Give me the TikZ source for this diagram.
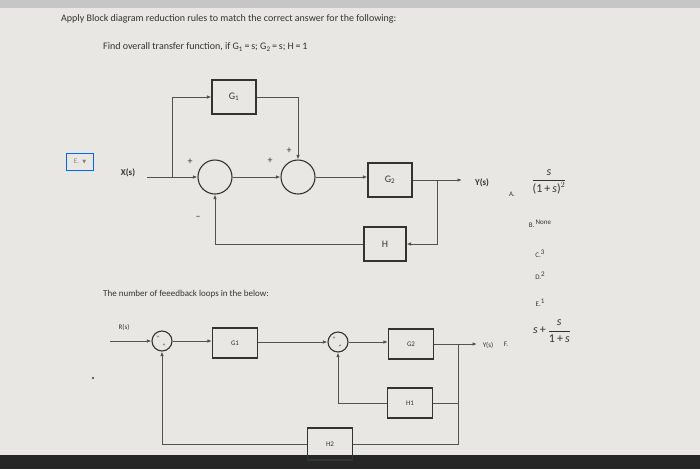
\documentclass[tikz,border=0pt]{standalone}
\usepackage{amsmath}
\usepackage{fontspec}
\setmainfont{Carlito}
\newfontfamily\djv{DejaVu Sans}
\usetikzlibrary{arrows.meta}
\definecolor{bg}{HTML}{E9E7E4}
\definecolor{ink}{HTML}{333333}
\begin{document}
\begin{tikzpicture}[x=1pt,y=-1pt,
  blk/.style={draw=ink,line width=1.1pt,minimum width=#1,minimum height=34pt,inner sep=0pt,font=\normalsize,text=ink},
  blk/.default=44pt,
  sblk/.style={draw=ink,line width=1.1pt,minimum width=45pt,minimum height=30pt,inner sep=0pt,font=\scriptsize,text=ink},
  sumc/.style={draw=ink,line width=1.1pt,circle,minimum size=#1,inner sep=0pt},
  wire/.style={draw=ink!85,line width=1pt},
  arr/.style={wire,-{Latex[length=4.5pt,width=3.5pt]}},
  lbl/.style={text=ink,font=\small,inner sep=1pt}]
\fill[bg] (0,0) rectangle (700,469);
\fill[gray!45] (0,0) rectangle (700,8);
\fill[black!85] (0,455) rectangle (700,469);
\useasboundingbox (0,0) rectangle (700,469);
% header
\node[lbl,anchor=west,font=\normalsize] (t1) at (60,19) {Apply Block diagram reduction rules to match the correct answer for the following:};
\node[lbl,anchor=west,font=\normalsize] (t2) at (102,47) {Find overall transfer function, if G\textsubscript{1}\,=\,s; G\textsubscript{2}\,=\,s; H\,=\,1};
% top diagram
\node[draw=blue!60!cyan,line width=1.3pt,minimum width=27pt,minimum height=17pt,inner sep=0pt,font=\scriptsize,text=gray] (dd) at (80,162) {E.\ \ {\djv\tiny ▼}};
\node[lbl,font=\small\bfseries] (xs) at (128,173) {X(s)};
\coordinate (in1) at (147,177);
\coordinate (br1) at (172,177);
\node[sumc=34pt] (s1) at (215,177) {};
\node[sumc=34pt] (s2) at (298,177) {};
\node[blk] (g1) at (234,97) {G\textsubscript{1}};
\node[blk] (g2) at (390,180) {G\textsubscript{2}};
\node[blk=42pt] (h) at (385,244) {H};
\coordinate (o1) at (462,180);
\coordinate (b2) at (437,180);
\draw[wire] (in1) -- (br1);
\draw[arr] (br1) -- (s1.west);
\draw[arr] (br1) |- (g1.west);
\draw[arr] (g1.east) -| (s2.north);
\draw[arr] (s1.east) -- (s2.west);
\draw[arr] (s2.east) -- (g2.west |- s2.east);
\draw[arr] (g2.east) -- (o1);
\draw[arr] (b2) |- (h.east);
\draw[arr] (h.west) -| (s1.south);
\node[lbl,font=\normalsize] (p1) at (190,162) {+};
\node[lbl,font=\normalsize] (p2) at (270,161) {+};
\node[lbl,font=\normalsize] (p3) at (289,151) {+};
\node[lbl,font=\normalsize] (m1) at (198,218) {--};
\node[lbl,font=\small\bfseries] (ys) at (482,183) {Y(s)};
% options
\node[lbl,font=\scriptsize] (oa) at (512,194) {A.};
\node[lbl,font=\large] (fa) at (549,182) {$\dfrac{\text{\itshape s}}{\text{(1\,+\,\itshape s\upshape)}^2}$};
\node[lbl,font=\scriptsize] (ob) at (540,224) {B.\,\raisebox{3pt}{None}};
\node[lbl,font=\scriptsize] (oc) at (540,254) {C.\raisebox{3pt}{3}};
\node[lbl,font=\scriptsize] (od) at (540,276) {D.\raisebox{3pt}{2}};
\node[lbl,font=\scriptsize] (oe) at (540,303) {E.\raisebox{3pt}{1}};
\node[lbl,font=\scriptsize] (of) at (506,344) {F.};
\node[lbl,font=\large] (ff) at (552,331) {$\text{\itshape s}\,\text{+}\,\dfrac{\text{\itshape s}}{\text{1\,+\,\itshape s}}$};
% bottom diagram
\node[lbl,anchor=west,font=\small] (t3) at (102,294) {The number of feeedback loops in the below:};
\node[lbl,font=\scriptsize] (rs) at (124,327) {R(s)};
\coordinate (in2) at (110,341);
\node[sumc=20pt] (u1) at (162,341) {};
\node[sumc=20pt] (u2) at (338,342) {};
\node[sblk] (bg1) at (235,343) {G1};
\node[sblk] (bg2) at (411,344) {G2};
\node[sblk] (bh1) at (410,403) {H1};
\node[sblk,minimum height=32pt] (bh2) at (330,444) {H2};
\coordinate (o2) at (477,344);
\coordinate (b3) at (458,344);
\draw[arr] (in2) -- (u1.west);
\draw[arr] (u1.east) -- (bg1.west |- u1.east);
\draw[arr] (bg1.east |- u2.west) -- (u2.west);
\draw[arr] (u2.east) -- (bg2.west |- u2.east);
\draw[arr] (bg2.east) -- (o2);
\draw[wire] (b3) |- (bh1.east);
\draw[wire] (b3) |- (bh2.east);
\draw[arr] (bh1.west) -| (u2.south);
\draw[arr] (bh2.west) -| (u1.south);
\node[lbl,font=\tiny] (q1) at (158,337) {+};
\node[lbl,font=\tiny] (q2) at (164,345) {+};
\node[lbl,font=\tiny] (q3) at (334,338) {+};
\node[lbl,font=\tiny] (q4) at (340,346) {+};
\node[lbl,font=\scriptsize] (ys2) at (488,345) {Y(s)};
\fill[ink] (93,378) circle (1.2pt);
\end{tikzpicture}
\end{document}
